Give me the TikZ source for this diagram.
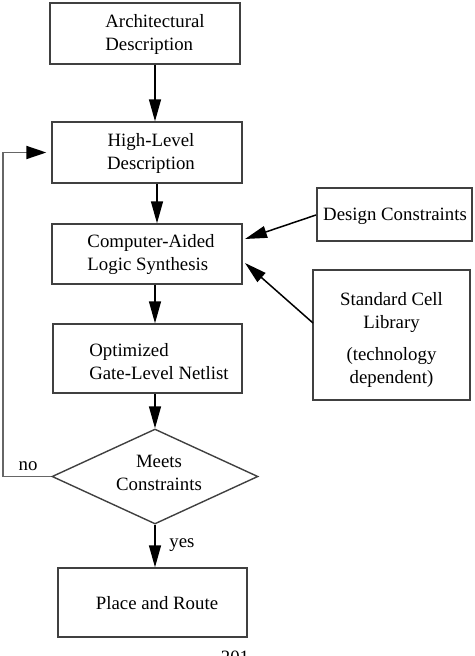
\documentclass[tikz,border=0pt]{standalone}
\usepackage{fontspec}
\setmainfont{Liberation Serif}
\usetikzlibrary{shapes.geometric,arrows.meta}
\begin{document}
\begin{tikzpicture}[x=1pt,y=-1pt,
  box/.style={draw=black!75,line width=1.4pt,rectangle,inner sep=0pt},
  txt/.style={font=\fontsize{18.8}{23}\selectfont,inner sep=0pt},
  arr/.style={line width=1.5pt,-{Triangle[length=22pt,width=12pt]}},
  fb/.style={draw=black!60,line width=1.8pt,-{Triangle[length=20pt,width=13pt,color=black]}}
]
\useasboundingbox (0,0) rectangle (474,656);
% boxes
\node[box,minimum width=190pt,minimum height=61pt] (b1) at (145,33.5) {};
\node[box,minimum width=190pt,minimum height=61pt] (b2) at (147,152.5) {};
\node[box,minimum width=190pt,minimum height=60pt] (b3) at (147,254) {};
\node[box,minimum width=189pt,minimum height=69pt] (b4) at (147.5,358.5) {};
\node[box,minimum width=155pt,minimum height=53pt] (dc) at (394.5,214.5) {};
\node[box,minimum width=157pt,minimum height=130pt] (scl) at (391.5,335) {};
\node[box,diamond,minimum width=206pt,minimum height=95pt,inner sep=0pt] (dm) at (155,476.5) {};
\node[box,minimum width=189pt,minimum height=69pt] (pr) at (152.5,602.5) {};
% texts
\node[txt,align=left] (t1) at (155,34) {Architectural\\Description};
\node[txt,align=center] (t2) at (151,153) {High-Level\\Description};
\node[txt,align=left] (t3) at (151,255) {Computer-Aided\\Logic Synthesis};
\node[txt,align=left] (t4) at (159,362) {Optimized\\Gate-Level Netlist};
\node[txt,align=center] (t5) at (395,216) {Design Constraints};
\node[txt,align=center] (t6) at (391.5,340) {Standard Cell\\Library\\[9pt](technology\\dependent)};
\node[txt,align=center] (t7) at (159,473) {Meets\\Constraints};
\node[txt] (t8) at (157,603) {Place and Route};
\node[txt] (no) at (28,466) {no};
\node[txt] (yes) at (182,545) {yes};
\node[txt,anchor=north] (pg) at (235,651) {201};
% connectors
\coordinate (ax) at (155,0);
\draw[arr] (b1.south -| ax) -- (b2.north -| ax);
\draw[arr] ([xshift=2pt]b2.south -| ax) -- ([xshift=2pt]b3.north -| ax);
\draw[arr] (b3.south -| ax) -- (b4.north -| ax);
\draw[arr] (b4.south -| ax) -- (dm.north);
\draw[arr] (dm.south) -- (pr.north -| dm.south);
\coordinate (dcs) at (316,215);
\coordinate (dct) at (245,239);
\draw[arr] (dcs) -- (dct);
\coordinate (scs) at (313,323);
\coordinate (sct) at (245,263);
\draw[arr] (scs) -- (sct);
\coordinate (fl) at (3,0);
\draw[fb] (dm.west) -- (dm.west -| fl) -- (fl |- b2.west) -- ([xshift=-5pt]b2.west);
\end{tikzpicture}
\end{document}
